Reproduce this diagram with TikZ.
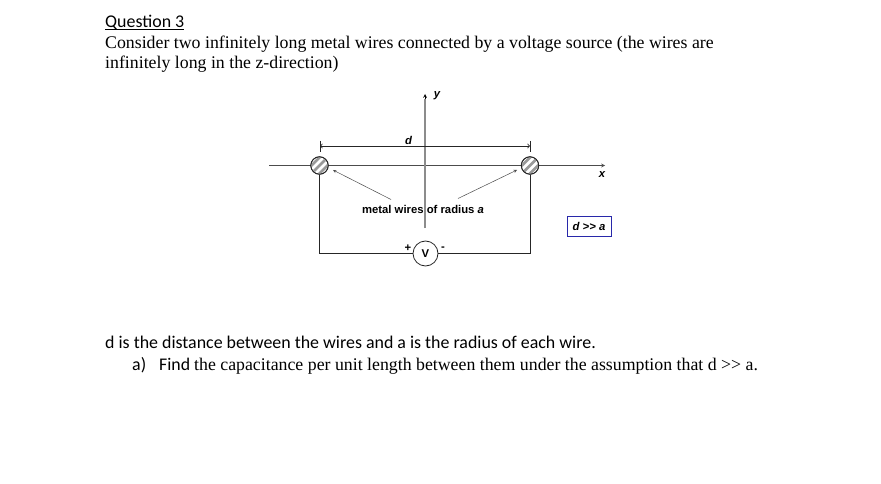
\documentclass[tikz,border=0pt]{standalone}
\usepackage{fontspec}
\setmainfont{Liberation Serif}
\newfontfamily\calib{Carlito}
\newfontfamily\arialf{Liberation Sans}
\definecolor{boxblue}{RGB}{40,40,170}
\tikzset{
  wire/.style={circle,draw=black!85,thick,minimum size=17.5pt,inner sep=0pt},
  fig/.style={font=\arialf\bfseries\fontsize{11.3}{11.3}\selectfont,inner sep=0pt},
  body/.style={anchor=base west,inner sep=0pt,font=\fontsize{17.8}{17.8}\selectfont},
  head/.style={anchor=base west,inner sep=0pt,font=\calib\fontsize{17.9}{17.9}\selectfont},
}
\begin{document}
\begin{tikzpicture}[x=1pt,y=-1pt]
\useasboundingbox (0,0) rectangle (881,484);
\fill[white](0,0)rectangle(881,484);
%text
\node[head](qn) at (105,27.5){\underline{\smash{Question 3}}};
\node[body](la) at (105,48.7){Consider two infinitely long metal wires connected by a voltage source (the wires are};
\node[body](lb) at (105,68.7){infinitely long in the z-direction)};
\node[head](lc) at (105,348){d is the distance between the wires and a is the radius of each wire.};
\node[head](ld) at (132,370){a)};
\node[body](le) at (159,370){\calib Find \rmfamily the capacitance per unit length between them under the assumption that d {>}{>} a.};
%axes
\coordinate (xa) at (269,165.5);
\coordinate (xb) at (605,165.5);
\coordinate (ya) at (425,228);
\coordinate (yb) at (425,94);
\coordinate (yc) at (425,99);
\draw[-stealth,black!70,line width=0.7pt](xa)--(xb);
\draw[black!45,line width=1.1pt](ya)--(yc);
\draw[-stealth,black,line width=0.7pt](yc)--(yb);
\node[fig](ly) at (437,96){\itshape y};
\node[fig](lx) at (602,174.5){\itshape x};
%wires
\node[wire,fill=white](wl) at (319.5,165.5){};
\node[wire,fill=white](wr) at (530,165.5){};
\foreach \cx in {319.5,530}{
\scope
\clip(\cx,165.5)circle(8);
\foreach \s in {-8,0,8}
\draw[black!40,line width=2.6pt](\cx+\s-10,175.5)--(\cx+\s+10,155.5);
\endscope
}
\draw[black!85,thick](319.5,165.5)circle(8.7);
\draw[black!85,thick](530,165.5)circle(8.7);
%d
\coordinate (da) at (320,146);
\coordinate (db) at (530,146);
\draw[black!85,line width=0.8pt](320,141)--(320,152);
\draw[black!85,line width=0.8pt](530,141)--(530,152);
\draw[to-to,black!85,line width=0.8pt](da)--(db);
\node[fig](ld2) at (408.5,140){\itshape d};
%leaders
\node[fig](lm) at (423,209){metal wires of radius \itshape a};
\coordinate (ma) at (391,199.5);
\coordinate (mb) at (458,198.5);
\coordinate (ta) at (333,170);
\coordinate (tb) at (517,170);
\draw[-stealth,black!70,line width=0.5pt](ma)--(ta);
\draw[-stealth,black!70,line width=0.5pt](mb)--(tb);
%circuit
\node[circle,draw=black!85,line width=0.8pt,minimum size=25pt,inner sep=0pt,fig](vs) at (425.5,253.5){V};
\draw[black!85,line width=1pt](wl.south)--(wl.south|-vs)--(vs.west);
\draw[black!85,line width=1pt](wr.south)--(wr.south|-vs)--(vs.east);
\node[fig](lp) at (408,248.5){+};
\node[fig](ln) at (443,248.5){-};
%box
\node[fig,draw=boxblue,line width=1pt,minimum height=20pt,minimum width=44pt](bx) at (589,226){\itshape d >> a};
\end{tikzpicture}
\end{document}
